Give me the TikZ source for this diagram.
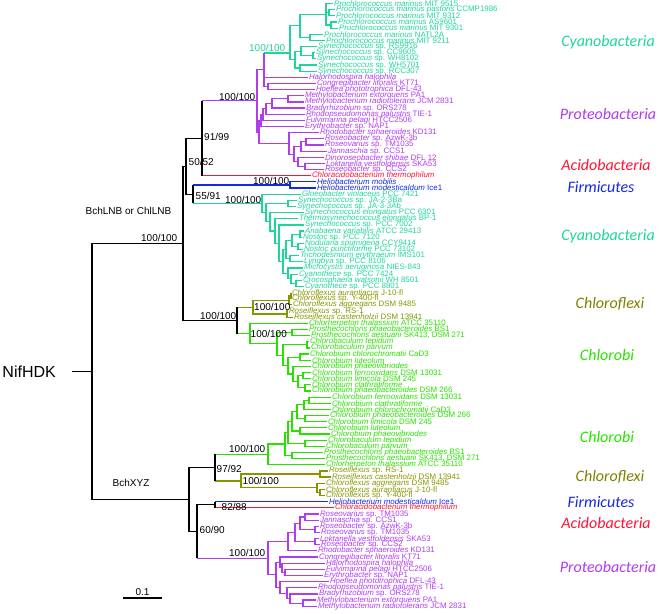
\documentclass[tikz,border=0pt]{standalone}
\usepackage{fontspec}
\setmainfont{Liberation Sans}
\newfontfamily\cladefont{Carlito}
\usetikzlibrary{calc}
\definecolor{cyC}{RGB}{30,215,150}
\definecolor{prC}{RGB}{175,60,240}
\definecolor{acC}{RGB}{255,20,50}
\definecolor{fiC}{RGB}{20,40,230}
\definecolor{flC}{RGB}{135,150,0}
\definecolor{flL}{RGB}{128,128,0}
\definecolor{cbC}{RGB}{40,225,0}
\tikzset{
  br/.style={line width=1.2pt},
  bcy/.style={br,draw=cyC}, bpr/.style={br,draw=prC}, bac/.style={br,draw=acC},
  bfi/.style={br,draw=fiC}, bfl/.style={br,draw=flC}, bcb/.style={br,draw=cbC},
  bbk/.style={br,draw=black},
  leaf/.style={anchor=west,inner sep=0.8pt,font=\fontsize{7.9}{9}\selectfont},
  bs/.style={inner sep=0.5pt,font=\fontsize{10}{11}\selectfont,text=black},
  clade/.style={inner sep=0pt,font=\cladefont\itshape\fontsize{16}{18}\selectfont},
}
\newcommand\lf[5]{\node[leaf,text=#4] (#1) at (#3,{3.5+(#2-1)*6.15}) {#5};}
\newcommand\nd[4]{\path let \p1=(#3), \p2=(#4) in (#2pt,{(\y1+\y2)/2}) coordinate (#1);}
\newcommand\eds[3]{\foreach \cc in {#3}{\draw[#2] (\cc) -| (#1);}}
\newcommand\edd[4]{\draw[#3] (#1) -- (#1 -| #2); \draw[#4] (#1 -| #2) -- (#2);}
\begin{document}
\begin{tikzpicture}[x=1pt,y=-1pt]
\useasboundingbox (0,0) rectangle (660,613);
% ---------------- leaves ----------------
\lf{L1}{1}{333}{cyC}{\textit{Prochlorococcus marinus} MIT 9515}
\lf{L2}{2}{335}{cyC}{\textit{Prochlorococcus marinus pastoris} CCMP1986}
\lf{L3}{3}{335}{cyC}{\textit{Prochlorococcus marinus} MIT 9312}
\lf{L4}{4}{337}{cyC}{\textit{Prochlorococcus marinus} AS9601}
\lf{L5}{5}{338}{cyC}{\textit{Prochlorococcus marinus} MIT 9301}
\lf{L6}{6}{323}{cyC}{\textit{Prochlorococcus marinus} NATL2A}
\lf{L7}{7}{325}{cyC}{\textit{Prochlorococcus marinus} MIT 9211}
\lf{L8}{8}{317}{cyC}{\textit{Synechococcus} sp. RS9916}
\lf{L9}{9}{315}{cyC}{\textit{Synechococcus} sp. CC9605}
\lf{L10}{10}{316}{cyC}{\textit{Synechococcus} sp. WH8102}
\lf{L11}{11}{317}{cyC}{\textit{Synechococcus} sp. WH5701}
\lf{L12}{12}{317}{cyC}{\textit{Synechococcus} sp. RCC307}
\lf{L13}{13}{308}{prC}{\textit{Halorhodospira halophila}}
\lf{L14}{14}{316}{prC}{\textit{Congregibacter litoralis} KT71}
\lf{L15}{15}{315}{prC}{\textit{Hoeflea phototrophica} DFL-43}
\lf{L16}{16}{304}{prC}{\textit{Methylobacterium extorquens} PA1}
\lf{L17}{17}{304}{prC}{\textit{Methylobacterium radiotolerans} JCM 2831}
\lf{L18}{18}{305}{prC}{\textit{Bradyrhizobium} sp. ORS278}
\lf{L19}{19}{305}{prC}{\textit{Rhodopseudomonas palustris} TIE-1}
\lf{L20}{20}{305}{prC}{\textit{Fulvimarina pelagi} HTCC2506}
\lf{L21}{21}{304}{prC}{\textit{Erythrobacter} sp. NAP1}
\lf{L22}{22}{319}{prC}{\textit{Rhodobacter sphaeroides} KD131}
\lf{L23}{23}{324}{prC}{\textit{Roseobacter} sp. AzwK-3b}
\lf{L24}{24}{324}{prC}{\textit{Roseovarius} sp. TM1035}
\lf{L25}{25}{327}{prC}{\textit{Jannaschia} sp. CCS1}
\lf{L26}{26}{324}{prC}{\textit{Dinoroseobacter shibae} DFL 12}
\lf{L27}{27}{325}{prC}{\textit{Loktanella vestfoldensis} SKA53}
\lf{L28}{28}{324}{prC}{\textit{Roseobacter} sp. CCS2}
\lf{L29}{29}{311}{acC}{\textit{Chloracidobacterium thermophilum}}
\lf{L30}{30}{316}{fiC}{\textit{Heliobacterium mobilis}}
\lf{L31}{31}{316}{fiC}{\textit{Heliobacterium modesticaldum} Ice1}
\lf{L32}{32}{301}{cyC}{\textit{Gloeobacter violaceus} PCC 7421}
\lf{L33}{33}{297}{cyC}{\textit{Synechococcus} sp. JA-2-3Ba}
\lf{L34}{34}{296}{cyC}{\textit{Synechococcus} sp. JA-3-3Ab}
\lf{L35}{35}{304}{cyC}{\textit{Synechococcus elongatus} PCC 6301}
\lf{L36}{36}{298}{cyC}{\textit{Thermosynechococcus elongatus} BP-1}
\lf{L37}{37}{304}{cyC}{\textit{Synechococcus} sp. PCC 7002}
\lf{L38}{38}{304}{cyC}{\textit{Anabaena variabilis} ATCC 29413}
\lf{L39}{39}{302}{cyC}{\textit{Nostoc} sp. PCC 7120}
\lf{L40}{40}{304}{cyC}{\textit{Nodularia spumigena} CCY9414}
\lf{L41}{41}{303}{cyC}{\textit{Nostoc punctiforme} PCC 73102}
\lf{L42}{42}{299}{cyC}{\textit{Trichodesmium erythraeum} IMS101}
\lf{L43}{43}{303}{cyC}{\textit{Lyngbya} sp. PCC 8106}
\lf{L44}{44}{303}{cyC}{\textit{Microcystis aeruginosa} NIES-843}
\lf{L45}{45}{298}{cyC}{\textit{Cyanothece} sp. PCC 7424}
\lf{L46}{46}{302}{cyC}{\textit{Crocosphaera watsonii} WH 8501}
\lf{L47}{47}{304}{cyC}{\textit{Cyanothece} sp. PCC 8801}
\lf{L48}{48}{291}{flC}{\textit{Chloroflexus aurantiacus} J-10-fl}
\lf{L49}{49}{291}{flC}{\textit{Chloroflexus} sp. Y-400-fl}
\lf{L50}{50}{292}{flC}{\textit{Chloroflexus aggregans} DSM 9485}
\lf{L51}{51}{288}{flC}{\textit{Roseiflexus} sp. RS-1}
\lf{L52}{52}{293}{flC}{\textit{Roseiflexus castenholzii} DSM 13941}
\lf{L53}{53}{308}{cbC}{\textit{Chlorherpeton thalassium} ATCC 35110}
\lf{L54}{54}{308}{cbC}{\textit{Prosthecochloris phaeobacteroides} BS1}
\lf{L55}{55}{310}{cbC}{\textit{Prosthecochloris aestuarii} SK413, DSM 271}
\lf{L56}{56}{309}{cbC}{\textit{Chlorobaculum tepidum}}
\lf{L57}{57}{310}{cbC}{\textit{Chlorobaculum parvum}}
\lf{L58}{58}{309}{cbC}{\textit{Chlorobium chlorochromatii} CaD3}
\lf{L59}{59}{311}{cbC}{\textit{Chlorobium luteolum}}
\lf{L60}{60}{311}{cbC}{\textit{Chlorobium phaeovibriodes}}
\lf{L61}{61}{311}{cbC}{\textit{Chlorobium ferrooxidans} DSM 13031}
\lf{L62}{62}{311}{cbC}{\textit{Chlorobium limicola} DSM 245}
\lf{L63}{63}{311}{cbC}{\textit{Chlorobium clathratiforme}}
\lf{L64}{64}{311}{cbC}{\textit{Chlorobium phaeobacteroides} DSM 266}
\lf{L65}{65}{331}{cbC}{\textit{Chlorobium ferrooxidans} DSM 13031}
\lf{L66}{66}{331}{cbC}{\textit{Chlorobium clathratiforme}}
\lf{L67}{67}{331}{cbC}{\textit{Chlorobium chlorochromatii} CaD3}
\lf{L68}{68}{329}{cbC}{\textit{Chlorobium phaeobacteroides} DSM 266}
\lf{L69}{69}{327}{cbC}{\textit{Chlorobium limicola} DSM 245}
\lf{L70}{70}{327}{cbC}{\textit{Chlorobium luteolum}}
\lf{L71}{71}{330}{cbC}{\textit{Chlorobium phaeovibriodes}}
\lf{L72}{72}{327}{cbC}{\textit{Chlorobaculum tepidum}}
\lf{L73}{73}{325}{cbC}{\textit{Chlorobaculum parvum}}
\lf{L74}{74}{323}{cbC}{\textit{Prosthecochloris phaeobacteroides} BS1}
\lf{L75}{75}{325}{cbC}{\textit{Prosthecochloris aestuarii} SK413, DSM 271}
\lf{L76}{76}{325}{cbC}{\textit{Chlorherpeton thalassium} ATCC 35110}
\lf{L77}{77}{328}{flC}{\textit{Roseiflexus} sp. RS-1}
\lf{L78}{78}{331}{flC}{\textit{Roseiflexus castenholzii} DSM 13941}
\lf{L79}{79}{325}{flC}{\textit{Chloroflexus aggregans} DSM 9485}
\lf{L80}{80}{325}{flC}{\textit{Chloroflexus aurantiacus} J-10-fl}
\lf{L81}{81}{325}{flC}{\textit{Chloroflexus} sp. Y-400-fl}
\lf{L82}{82}{328}{fiC}{\textit{Heliobacterium modesticaldum} Ice1}
\lf{L83}{83}{334}{acC}{\textit{Chloracidobacterium thermophilum}}
\lf{L84}{84}{319}{prC}{\textit{Roseovarius} sp. TM1035}
\lf{L85}{85}{319}{prC}{\textit{Jannaschia} sp. CCS1}
\lf{L86}{86}{319}{prC}{\textit{Roseobacter} sp. AzwK-3b}
\lf{L87}{87}{320}{prC}{\textit{Roseovarius} sp. TM1035}
\lf{L88}{88}{319}{prC}{\textit{Loktanella vestfoldensis} SKA53}
\lf{L89}{89}{320}{prC}{\textit{Roseobacter} sp. CCS2}
\lf{L90}{90}{317}{prC}{\textit{Rhodobacter sphaeroides} KD131}
\lf{L91}{91}{318}{prC}{\textit{Congregibacter litoralis} KT71}
\lf{L92}{92}{325}{prC}{\textit{Halorhodospira halophila}}
\lf{L93}{93}{325}{prC}{\textit{Fulvimarina pelagi} HTCC2506}
\lf{L94}{94}{323}{prC}{\textit{Erythrobacter} sp. NAP1}
\lf{L95}{95}{329}{prC}{\textit{Hoeflea phototrophica} DFL-43}
\lf{L96}{96}{317}{prC}{\textit{Rhodopseudomonas palustris} TIE-1}
\lf{L97}{97}{318}{prC}{\textit{Bradyrhizobium} sp. ORS278}
\lf{L98}{98}{316}{prC}{\textit{Methylobacterium extorquens} PA1}
\lf{L99}{99}{317}{prC}{\textit{Methylobacterium radiotolerans} JCM 2831}
% ---------------- internal nodes: BchLNB ----------------
\nd{P23}{329}{L2}{L3} \nd{P45}{331}{L4}{L5} \nd{P5}{326}{L1}{P45}
\nd{P67}{310}{L6}{L7} \nd{Pro}{300}{P5}{P67}
\nd{S23}{313}{L9}{L10} \nd{S1}{301}{L8}{S23} \nd{S45}{300}{L11}{L12}
\nd{Syn}{295}{S1}{S45} \coordinate (C1) at (290,53);
\nd{CH}{268}{L14}{L15} \nd{Q}{264}{C1}{CH}
\nd{M1}{288}{L16}{L17} \nd{M2}{272}{M1}{L18} \nd{M3}{266}{M2}{L19}
\nd{M4}{263}{M3}{L20} \nd{M5}{261}{M4}{L21}
\nd{r1}{306}{L23}{L24} \nd{r2}{301}{r1}{L25} \nd{r3}{305}{L27}{L28}
\nd{r4}{298}{L26}{r3} \nd{r5}{294}{r2}{r4} \nd{r6}{289}{L22}{r5}
\nd{R}{259}{M5}{r6} \nd{P}{257}{Q}{R} \nd{B}{202}{P}{L29}
\nd{H}{290}{L30}{L31}
\nd{ja}{288}{L33}{L34} \nd{n1}{300}{L38}{L39} \nd{n2}{298}{L40}{L41}
\nd{nos}{292}{n1}{n2} \nd{lyn}{290}{L42}{L43} \nd{cy1}{296}{L46}{L47}
\nd{cy2}{291}{L45}{cy1} \nd{mic}{288}{L44}{cy2} \nd{gg1}{286}{nos}{lyn}
\nd{gg2}{283}{gg1}{mic} \nd{gg3}{279}{L37}{gg2} \nd{gg4}{275}{L36}{gg3}
\nd{gg5}{270}{L35}{gg4} \nd{gg6}{266}{ja}{gg5} \nd{C2}{262}{L32}{gg6}
\nd{F}{193}{H}{C2} \nd{A}{186}{B}{F}
\nd{fx1}{291}{L48}{L49} \nd{fx2}{289}{fx1}{L50} \nd{fx3}{287}{L51}{L52}
\nd{FX1}{253}{fx2}{fx3}
\nd{cbp}{292}{L54}{L55} \nd{cbt}{307}{L56}{L57} \nd{ca}{300}{L58}{L59}
\nd{cbb}{303}{L61}{L62} \nd{cbc}{305}{L63}{L64} \nd{cbd}{298}{cbb}{cbc}
\nd{cbe}{293}{L60}{cbd} \nd{cbf}{288}{ca}{cbe} \nd{cbg}{283}{cbt}{cbf}
\nd{cbh}{277}{cbp}{cbg} \nd{CB1}{250}{L53}{cbh}
\nd{Ch}{237}{FX1}{CB1} \nd{LNB}{183}{A}{Ch}
% ---------------- internal nodes: BchXYZ ----------------
\nd{d1}{309}{L65}{L66} \nd{d2}{304}{d1}{L67} \nd{d3}{305}{L68}{L69}
\nd{d4}{297}{d2}{d3} \nd{d5}{300}{L70}{L71} \nd{d6}{292}{d4}{d5}
\nd{d7}{305}{L72}{L73} \nd{d8}{288}{d6}{d7} \nd{d9}{292}{L74}{L75}
\nd{d10}{285}{d8}{d9} \nd{CB2}{268}{d10}{L76}
\nd{e1}{320}{L77}{L78} \nd{e2}{320}{L80}{L81} \nd{e3}{317}{L79}{e2}
\nd{FX2}{241}{e1}{e3} \nd{X1}{215}{CB2}{FX2}
\nd{AF}{215}{L82}{L83}
\nd{q1}{305}{L84}{L85} \nd{q2}{315}{L86}{L87} \nd{q3}{300}{q1}{q2}
\nd{q4}{315}{L88}{L89} \nd{q5}{295}{q3}{q4} \nd{q6}{288}{q5}{L90}
\nd{h1}{303}{L98}{L99} \nd{h2}{290}{L97}{h1} \nd{h3}{287}{L96}{h2}
\nd{h4}{280}{L95}{h3} \nd{h5}{285}{L93}{L94} \nd{h6}{282}{L92}{h5}
\nd{h7}{280}{L91}{h6} \nd{h8}{276}{h7}{h4} \nd{PR2}{268}{q6}{h8}
\nd{X2}{197}{AF}{PR2} \nd{XYZ}{189}{X1}{X2}
\nd{root}{92}{LNB}{XYZ}
% ---------------- branches ----------------
\eds{P23}{bcy}{L2,L3} \eds{P45}{bcy}{L4,L5} \eds{P5}{bcy}{L1,P23,P45}
\eds{P67}{bcy}{L6,L7} \eds{Pro}{bcy}{P5,P67}
\eds{S23}{bcy}{L9,L10} \eds{S1}{bcy}{L8,S23} \eds{S45}{bcy}{L11,L12}
\eds{Syn}{bcy}{S1,S45} \eds{C1}{bcy}{Pro,Syn}
\eds{CH}{bpr}{L14,L15} \edd{C1}{Q}{bcy}{bpr} \eds{Q}{bpr}{L13,CH}
\eds{M1}{bpr}{L16,L17} \eds{M2}{bpr}{M1,L18} \eds{M3}{bpr}{M2,L19}
\eds{M4}{bpr}{M3,L20} \eds{M5}{bpr}{M4,L21}
\eds{r1}{bpr}{L23,L24} \eds{r2}{bpr}{r1,L25} \eds{r3}{bpr}{L27,L28}
\eds{r4}{bpr}{L26,r3} \eds{r5}{bpr}{r2,r4} \eds{r6}{bpr}{L22,r5}
\eds{R}{bpr}{M5,r6} \eds{P}{bpr}{Q,R}
\edd{P}{B}{bpr}{bbk} \edd{L29}{B}{bac}{bbk}
\eds{H}{bfi}{L30,L31}
\eds{ja}{bcy}{L33,L34} \eds{n1}{bcy}{L38,L39} \eds{n2}{bcy}{L40,L41}
\eds{nos}{bcy}{n1,n2} \eds{lyn}{bcy}{L42,L43} \eds{cy1}{bcy}{L46,L47}
\eds{cy2}{bcy}{L45,cy1} \eds{mic}{bcy}{L44,cy2} \eds{gg1}{bcy}{nos,lyn}
\eds{gg2}{bcy}{gg1,mic} \eds{gg3}{bcy}{L37,gg2} \eds{gg4}{bcy}{L36,gg3}
\eds{gg5}{bcy}{L35,gg4} \eds{gg6}{bcy}{ja,gg5} \eds{C2}{bcy}{L32,gg6}
\edd{H}{F}{bfi}{bbk} \edd{C2}{F}{bcy}{bbk}
\eds{A}{bbk}{B,F}
\eds{fx1}{bfl}{L48,L49} \eds{fx2}{bfl}{fx1,L50} \eds{fx3}{bfl}{L51,L52}
\eds{FX1}{bfl}{fx2,fx3}
\eds{cbp}{bcb}{L54,L55} \eds{cbt}{bcb}{L56,L57} \eds{ca}{bcb}{L58,L59}
\eds{cbb}{bcb}{L61,L62} \eds{cbc}{bcb}{L63,L64} \eds{cbd}{bcb}{cbb,cbc}
\eds{cbe}{bcb}{L60,cbd} \eds{cbf}{bcb}{ca,cbe} \eds{cbg}{bcb}{cbt,cbf}
\eds{cbh}{bcb}{cbp,cbg} \eds{CB1}{bcb}{L53,cbh}
\edd{FX1}{Ch}{bfl}{bbk} \edd{CB1}{Ch}{bcb}{bbk}
\eds{LNB}{bbk}{A,Ch}
\eds{d1}{bcb}{L65,L66} \eds{d2}{bcb}{d1,L67} \eds{d3}{bcb}{L68,L69}
\eds{d4}{bcb}{d2,d3} \eds{d5}{bcb}{L70,L71} \eds{d6}{bcb}{d4,d5}
\eds{d7}{bcb}{L72,L73} \eds{d8}{bcb}{d6,d7} \eds{d9}{bcb}{L74,L75}
\eds{d10}{bcb}{d8,d9} \eds{CB2}{bcb}{d10,L76}
\eds{e1}{bfl}{L77,L78} \eds{e2}{bfl}{L80,L81} \eds{e3}{bfl}{L79,e2}
\eds{FX2}{bfl}{e1,e3}
\edd{CB2}{X1}{bcb}{bbk} \edd{FX2}{X1}{bfl}{bbk}
\edd{L82}{AF}{bfi}{bbk} \edd{L83}{AF}{bac}{bbk}
\eds{q1}{bpr}{L84,L85} \eds{q2}{bpr}{L86,L87} \eds{q3}{bpr}{q1,q2}
\eds{q4}{bpr}{L88,L89} \eds{q5}{bpr}{q3,q4} \eds{q6}{bpr}{q5,L90}
\eds{h1}{bpr}{L98,L99} \eds{h2}{bpr}{L97,h1} \eds{h3}{bpr}{L96,h2}
\eds{h4}{bpr}{L95,h3} \eds{h5}{bpr}{L93,L94} \eds{h6}{bpr}{L92,h5}
\eds{h7}{bpr}{L91,h6} \eds{h8}{bpr}{h7,h4} \eds{PR2}{bpr}{q6,h8}
\eds{X2}{bbk}{AF} \edd{PR2}{X2}{bpr}{bbk}
\eds{XYZ}{bbk}{X1,X2}
\eds{root}{bbk}{LNB,XYZ}
\coordinate (stub) at ($(root)+(-20,0)$);
\draw[bbk] (stub) -- (root);
% ---------------- support values ----------------
\node[bs,text=cyC,anchor=south east] (tC1) at ($(C1)+(-4,-0.5)$) {100/100};
\node[bs,anchor=south east] (tP) at ($(P)+(-1,0)$) {100/100};
\node[bs,anchor=west] (tB) at ($(B)+(1.5,-1)$) {91/99};
\node[bs,anchor=west] (tA) at ($(A)+(2,-4)$) {50/52};
\node[bs,anchor=west] (tF) at ($(F)+(2,1.5)$) {55/91};
\node[bs,anchor=south east] (tH) at ($(H)+(0,0.5)$) {100/100};
\node[bs,anchor=south east] (tC2) at ($(C2)+(0,0.5)$) {100/100};
\node[bs,anchor=south east] (tLNB) at ($(LNB)+(-5,-1)$) {100/100};
\node[bs,anchor=south east] (tCh) at ($(Ch)+(0,0)$) {100/100};
\node[bs,anchor=west] (tFX1) at ($(FX1)+(0.5,0)$) {100/100};
\node[bs,anchor=west] (tCB1) at ($(CB1)+(0,0)$) {100/100};
\node[bs,anchor=west] (tX1) at ($(X1)+(1,1)$) {97/92};
\node[bs,anchor=south east] (tCB2) at ($(CB2)+(-2,-1)$) {100/100};
\node[bs,anchor=west] (tFX2) at ($(FX2)+(1,0)$) {100/100};
\node[bs,anchor=west] (tAF) at ($(AF)+(6,2)$) {82/88};
\node[bs,anchor=west] (tX2) at ($(X2)+(2,-2)$) {60/90};
\node[bs,anchor=south east] (tPR2) at ($(PR2)+(-2,-1)$) {100/100};
\node[bs,anchor=west] (lnb) at (85,211) {BchLNB or ChlLNB};
\node[bs,anchor=west] (xyz) at (112,483) {BchXYZ};
\node[anchor=east,inner sep=0pt,font=\fontsize{16}{19}\selectfont] (nif) at ($(stub)+(-16,0)$) {NifHDK};
% ---------------- scale bar ----------------
\coordinate (sb1) at (123,598); \coordinate (sb2) at (162,598);
\draw[line width=1.2pt] (sb1) -- (sb2);
\node[bs,anchor=south] (sbl) at ($(sb1)!0.5!(sb2)+(0,-1.5)$) {0.1};
% ---------------- clade labels ----------------
\node[clade,text=cyC] (k1) at (608,42) {Cyanobacteria};
\node[clade,text=prC] (k2) at (608,114) {Proteobacteria};
\node[clade,text=acC] (k3) at (606,165) {Acidobacteria};
\node[clade,text=fiC] (k4) at (601,187) {Firmicutes};
\node[clade,text=cyC] (k5) at (608,236) {Cyanobacteria};
\node[clade,text=flL] (k6) at (610,304) {Chloroflexi};
\node[clade,text=cbC] (k7) at (607,355) {Chlorobi};
\node[clade,text=cbC] (k8) at (607,437) {Chlorobi};
\node[clade,text=flL] (k9) at (610,477) {Chloroflexi};
\node[clade,text=fiC] (k10) at (601,502) {Firmicutes};
\node[clade,text=acC] (k11) at (606,523) {Acidobacteria};
\node[clade,text=prC] (k12) at (608,567) {Proteobacteria};
\end{tikzpicture}
\end{document}
